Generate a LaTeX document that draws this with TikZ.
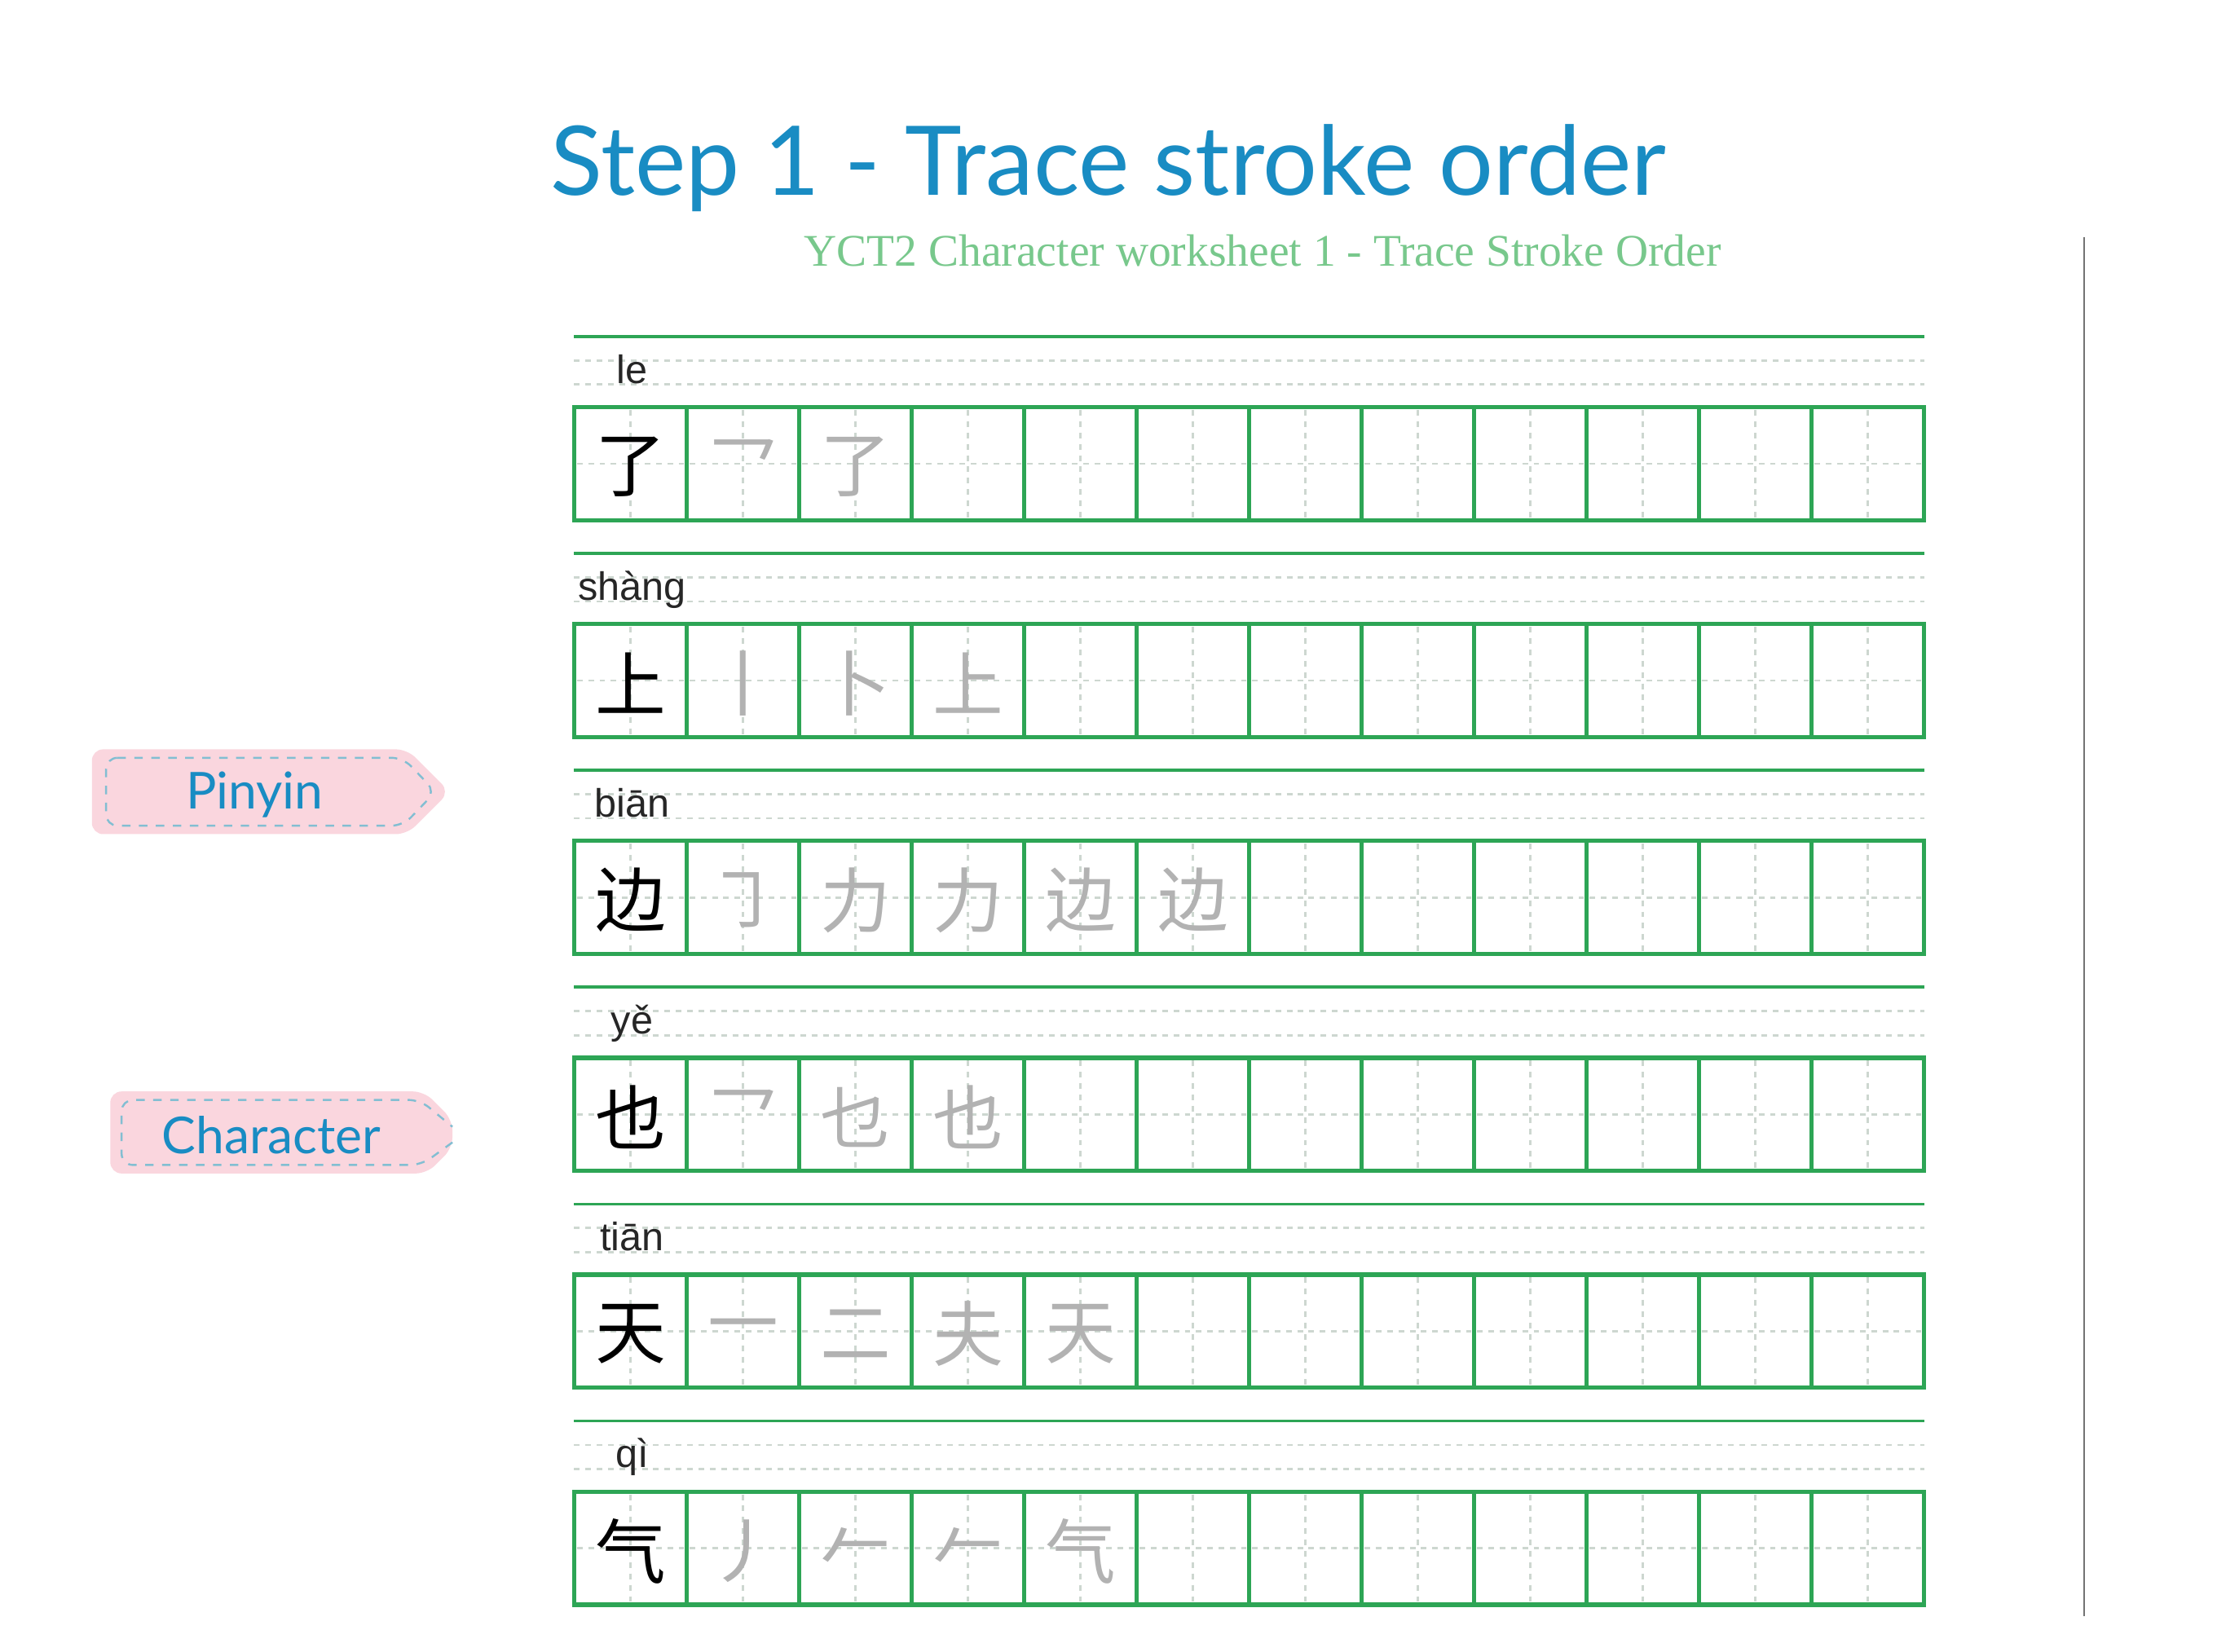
\documentclass[tikz,border=0pt]{standalone}
\usepackage{fontspec}
\setmainfont{Lato}
\newfontfamily\cjk{Noto Sans CJK SC}
\newfontfamily\pyfont{Liberation Sans}
\newfontfamily\serifw{Liberation Serif}
\definecolor{titleblue}{RGB}{25,140,195}
\definecolor{gridgreen}{RGB}{45,165,85}
\definecolor{subgreen}{RGB}{120,200,140}
\definecolor{tagpink}{RGB}{250,214,222}
\definecolor{tagdash}{RGB}{130,190,210}
\definecolor{dotgrey}{RGB}{205,215,208}
\tikzset{
  cellbox/.style={draw=gridgreen,line width=1.5pt},
  guide/.style={draw=dotgrey,line width=0.8pt,dash pattern=on 2pt off 2pt},
  pylabel/.style={font=\pyfont\fontsize{14}{14}\selectfont,text=black!85},
  bigchar/.style={font=\cjk\fontsize{25}{25}\selectfont,text=black},
  greychar/.style={font=\cjk\fontsize{25}{25}\selectfont,text=black!30},
  tagtext/.style={font=\fontsize{18}{18}\selectfont,text=titleblue},
}
\begin{document}
\begin{tikzpicture}[x=0.5pt,y=-0.5pt]
\useasboundingbox[fill=white] (0,0) rectangle (1568,1168);
\node[anchor=base,font=\fontsize{34}{34}\selectfont,text=titleblue] (title) at (784,138) {Step 1 - Trace stroke order};
\node[anchor=base,font=\serifw\fontsize{16}{16}\selectfont,text=subgreen] (sub) at (893,188) {YCT2 Character worksheet 1 - Trace Stroke Order};
\draw[black!55,line width=0.6pt] (1474,168) -- (1474,1143);
% tags
\fill[tagpink,rounded corners=4pt] (65,530) -- (288,530) -- (318,560) -- (288,590) -- (65,590) -- cycle;
\draw[tagdash,dashed,line width=0.7pt,rounded corners=4pt] (75,536) -- (285,536) -- (308,560) -- (285,584) -- (75,584) -- cycle;
\node[tagtext] (tp) at (180,562) {Pinyin};
\fill[tagpink,rounded corners=4pt] (78,772) -- (300,772) -- (320,792) -- (320,812) -- (302,830) -- (78,830) -- cycle;
\draw[tagdash,dashed,line width=0.7pt,rounded corners=4pt] (320,808) -- (298,824) -- (86,824) -- (86,778) -- (297,778) -- (320,797);
\node[tagtext] (tc) at (192,803) {Character};
% rows
\foreach \i/\py/\ch/\gs in {0/le/了/{乛,了},1/shàng/上/{丨,卜,上},2/biān/边/{㇆,力,力,边,边},3/yě/也/{乛,乜,也},4/tiān/天/{一,二,夫,天},5/qì/气/{丿,𠂉,𠂉,气}}{
  \pgfmathsetmacro\yt{238+153.4*\i}
  \draw[gridgreen,line width=1pt] (406,\yt) -- (1361,\yt);
  \draw[guide] (406,\yt+17) -- (1361,\yt+17);
  \draw[guide] (406,\yt+34) -- (1361,\yt+34);
  \foreach \c in {0,...,11}{
    \pgfmathsetmacro\xl{406+79.58*\c}
    \draw[guide] (\xl+39.8,\yt+52) -- (\xl+39.8,\yt+128);
    \draw[guide] (\xl+2,\yt+90) -- (\xl+77.6,\yt+90);
    \draw[cellbox] (\xl,\yt+50) rectangle (\xl+79.58,\yt+130);
  }
  \node[pylabel,anchor=base] (py\i) at (447,\yt+33) {\py};
  \node[bigchar] (c\i) at (446,\yt+92) {\ch};
  \foreach \g [count=\k] in \gs {
    \node[greychar] at (446+79.58*\k,\yt+92) {\g};
  }
}
\end{tikzpicture}
\end{document}
